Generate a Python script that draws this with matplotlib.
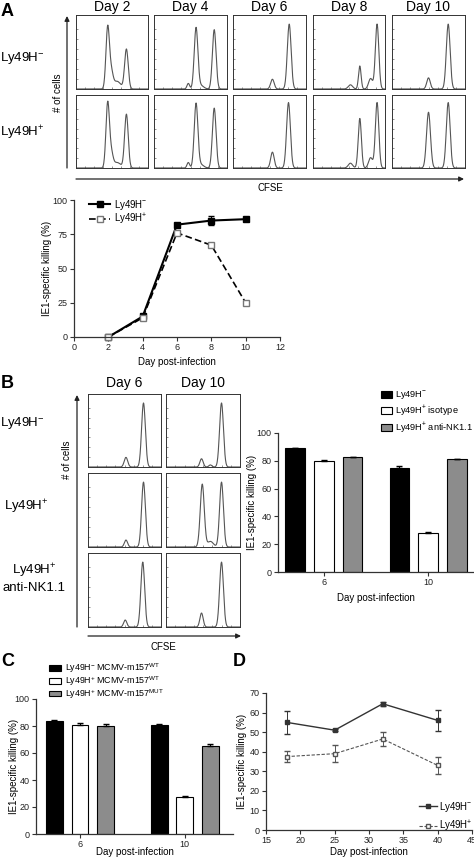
import numpy as np
import matplotlib
matplotlib.use('Agg')
import matplotlib.pyplot as plt
from matplotlib.lines import Line2D

plt.rcParams['font.family'] = ['Liberation Sans', 'DejaVu Sans']
plt.rcParams['mathtext.fontset'] = 'custom'
plt.rcParams['mathtext.rm'] = 'Liberation Sans'
plt.rcParams['mathtext.it'] = 'Liberation Sans:italic'
plt.rcParams['mathtext.bf'] = 'Liberation Sans:bold'

NEG = r'Ly49H$^{-}$'
POS = r'Ly49H$^{+}$'

# ---- panel A histograms: CFSE peaks (position, height, width) ----
a_days = ['Day 2', 'Day 4', 'Day 6', 'Day 8', 'Day 10']
a_neg_peaks = [
    [(0.44, 0.88, 0.024), (0.49, 0.22, 0.025), (0.57, 0.11, 0.05), (0.70, 0.57, 0.025)],
    [(0.47, 0.08, 0.018), (0.576, 0.87, 0.025), (0.64, 0.05, 0.04), (0.825, 0.85, 0.025)],
    [(0.54, 0.14, 0.024), (0.77, 0.93, 0.026)],
    [(0.52, 0.06, 0.03), (0.65, 0.33, 0.018), (0.80, 0.15, 0.028), (0.89, 0.93, 0.024)],
    [(0.50, 0.16, 0.024), (0.77, 0.93, 0.026)],
]
a_pos_peaks = [
    [(0.44, 0.94, 0.024), (0.49, 0.20, 0.025), (0.57, 0.08, 0.05), (0.70, 0.78, 0.025)],
    [(0.47, 0.08, 0.018), (0.576, 0.93, 0.025), (0.64, 0.05, 0.04), (0.825, 0.87, 0.025)],
    [(0.54, 0.23, 0.024), (0.76, 0.95, 0.026)],
    [(0.52, 0.07, 0.03), (0.65, 0.72, 0.022), (0.80, 0.15, 0.028), (0.89, 0.95, 0.024)],
    [(0.50, 0.81, 0.027), (0.77, 0.95, 0.026)],
]

# ---- panel A line chart ----
a_x = [2, 4, 6, 8, 10]
a_neg = [0, 15, 82, 85, 86]
a_neg_err = [0.5, 0.5, 0.8, 3, 1]
a_pos = [0, 14, 76, 67, 25]
a_pos_err = [0.5, 0.5, 0.8, 1, 1]

# ---- panel B histograms ----
b_days = ['Day 6', 'Day 10']
b_rows = [NEG, POS, POS + '\nanti-NK1.1']
b_peaks = [
    [[(0.52, 0.14, 0.024), (0.76, 0.93, 0.026)],
     [(0.48, 0.12, 0.022), (0.60, 0.03, 0.02), (0.75, 0.93, 0.026)]],
    [[(0.52, 0.10, 0.022), (0.76, 0.93, 0.026)],
     [(0.49, 0.90, 0.027), (0.60, 0.08, 0.04), (0.75, 0.93, 0.026)]],
    [[(0.51, 0.10, 0.022), (0.75, 0.93, 0.026)],
     [(0.48, 0.20, 0.022), (0.75, 0.93, 0.026)]],
]

# ---- panel B bars ----
b_groups = ['6', '10']
b_neg = [89, 74.5]
b_neg_err = [0, 1.5]
b_iso = [79.5, 28]
b_iso_err = [1, 1]
b_nk = [82.5, 81]
b_nk_err = [0.5, 0.5]

# ---- panel C bars ----
c_groups = ['6', '10']
c_neg = [84, 80.5]
c_neg_err = [0.5, 1]
c_wt = [81, 27.5]
c_wt_err = [1.5, 0.5]
c_mut = [80, 65]
c_mut_err = [1.5, 2]

# ---- panel D lines ----
d_x = [18, 25, 32, 40]
d_neg = [55, 51, 64.5, 56]
d_neg_err = [6, 0.5, 1, 5.5]
d_pos = [37.5, 39, 46.5, 33]
d_pos_err = [3, 4.5, 3.5, 4.5]

W, H = 474, 861
fig = plt.figure(figsize=(W / 100, H / 100), dpi=100)

ov = fig.add_axes([0, 0, 1, 1])
ov.set_xlim(0, W)
ov.set_ylim(H, 0)
ov.axis('off')


def px_axes(x0, y0, x1, y1):
    return fig.add_axes([x0 / W, 1 - y1 / H, (x1 - x0) / W, (y1 - y0) / H])


def ftext(x, y, s, **kw):
    ov.text(x, y, s, **kw)


def arrow(x0, y0, x1, y1):
    ov.annotate('', xy=(x1, y1), xytext=(x0, y0),
                arrowprops=dict(arrowstyle='-|>', color='#222', lw=0.9, mutation_scale=7,
                                shrinkA=0, shrinkB=0))


def histo(ax, peaks):
    x = np.linspace(0, 1, 400)
    y = np.zeros_like(x)
    for p, h, s in peaks:
        y += h * np.exp(-0.5 * ((x - p) / s) ** 2)
    ax.plot(x, y, color='#555555', lw=0.8)
    ax.set_xlim(0, 1)
    ax.set_ylim(0, 1.06)
    ax.set_xticks(np.linspace(0, 1, 9)[1:-1])
    ax.set_yticks(np.linspace(0, 1, 8)[1:-1])
    ax.tick_params(direction='in', length=1.5, width=0.5, colors='#666',
                   labelleft=False, labelbottom=False)
    for s in ax.spines.values():
        s.set_linewidth(0.7)
        s.set_color('#333')


def prism(ax):
    ax.spines['top'].set_visible(False)
    ax.spines['right'].set_visible(False)
    for s in ['left', 'bottom']:
        ax.spines[s].set_linewidth(0.9)
        ax.spines[s].set_color('#333')
    ax.tick_params(direction='out', length=3, width=0.8, labelsize=6.5, pad=1.5, colors='#333',
                   labelcolor='#222')


def labels(ax, xl, yl):
    ax.set_ylabel('IE1-specific killing (%)', fontsize=7)
    ax.set_xlabel('Day post-infection', fontsize=7)
    ax.yaxis.set_label_coords(yl, 0.5)
    ax.xaxis.set_label_coords(0.5, xl)


# ================= Panel A =================
ftext(1, 12, 'A', fontsize=13, fontweight='bold', va='center')
a_cols = [(76, 148), (154, 227), (233, 306), (313, 385), (392, 465)]
a_rowy = [(15, 89), (95, 168)]
for j, (x0, x1) in enumerate(a_cols):
    ftext((x0 + x1) / 2, 7, a_days[j], fontsize=10, ha='center', va='center')
    histo(px_axes(x0, a_rowy[0][0], x1, a_rowy[0][1]), a_neg_peaks[j])
    histo(px_axes(x0, a_rowy[1][0], x1, a_rowy[1][1]), a_pos_peaks[j])
ftext(22, 58, NEG, fontsize=9.5, ha='center', va='center')
ftext(22, 133, POS, fontsize=9.5, ha='center', va='center')
ftext(58, 93, '# of cells', fontsize=7, rotation=90, ha='center', va='center')
arrow(67, 168, 67, 16)
arrow(76, 179, 464, 179)
ftext(270, 188, 'CFSE', fontsize=7, ha='center', va='center')

ax = px_axes(74, 200, 280, 337)
ax.errorbar(a_x, a_neg, yerr=a_neg_err, color='black', lw=1.5, marker='s', ms=5,
            capsize=2, elinewidth=0.8, clip_on=False)
ax.errorbar(a_x, a_pos, yerr=a_pos_err, color='black', ls=(0, (4, 2)), lw=1.2, marker='s', ms=5,
            mfc='white', mec='#777777', capsize=2, elinewidth=0.8, clip_on=False)
ax.set_xlim(0, 12)
ax.set_ylim(0, 100)
ax.set_xticks(range(0, 13, 2))
ax.set_yticks([0, 25, 50, 75, 100])
prism(ax)
labels(ax, -0.146, -0.105)
h_a = [Line2D([], [], color='black', lw=1.5, marker='s', ms=5),
       Line2D([], [], color='black', ls=(0, (4, 2)), lw=1.2, marker='s', ms=5, mfc='white', mec='#777777')]
ax.legend(h_a, [NEG, POS], loc='upper left', bbox_to_anchor=(84 / W, 1 - 193 / H),
          bbox_transform=fig.transFigure, frameon=False, fontsize=7, handlelength=2.2,
          labelspacing=0.0, borderpad=0, handletextpad=0.4)

# ================= Panel B =================
ftext(1, 383, 'B', fontsize=13, fontweight='bold', va='center')
b_cols = [(88, 161), (166, 240)]
b_rowy = [(394, 467), (473, 547), (553, 627)]
for j, (x0, x1) in enumerate(b_cols):
    ftext((x0 + x1) / 2, 383, b_days[j], fontsize=10, ha='center', va='center')
    for i, (y0, y1) in enumerate(b_rowy):
        histo(px_axes(x0, y0, x1, y1), b_peaks[i][j])
ftext(22, 423, b_rows[0], fontsize=9.5, ha='center', va='center')
ftext(26, 507, b_rows[1], fontsize=9.5, ha='center', va='center')
ftext(34, 578, b_rows[2], fontsize=9.5, ha='center', va='center', linespacing=1.3)
ftext(67, 460, '# of cells', fontsize=7, rotation=90, ha='center', va='center')
arrow(77, 627, 77, 395)
arrow(88, 636, 241, 636)
ftext(163, 647, 'CFSE', fontsize=7, ha='center', va='center')

ax = px_axes(278, 433, 473, 572)
xs = np.arange(len(b_groups))
bw, off = 0.19, 0.275
z = [0, 0]
ax.bar(xs - off, b_neg, bw, color='black', edgecolor='black', lw=0.8, label=NEG)
ax.bar(xs, b_iso, bw, color='white', edgecolor='black', lw=0.8, label=POS + ' isotype')
ax.bar(xs + off, b_nk, bw, color='#8c8c8c', edgecolor='black', lw=0.8, label=POS + ' anti-NK1.1')
ax.errorbar(xs - off, b_neg, yerr=[z, b_neg_err], fmt='none', ecolor='black', capsize=2, elinewidth=0.8)
ax.errorbar(xs, b_iso, yerr=[z, b_iso_err], fmt='none', ecolor='black', capsize=2, elinewidth=0.8)
ax.errorbar(xs + off, b_nk, yerr=[z, b_nk_err], fmt='none', ecolor='black', capsize=2, elinewidth=0.8)
ax.set_xlim(-0.44, 1.43)
ax.set_ylim(0, 100)
ax.set_xticks(xs)
ax.set_xticklabels(b_groups)
ax.set_yticks(range(0, 101, 20))
prism(ax)
labels(ax, -0.151, -0.108)
ax.legend(loc='upper left', bbox_to_anchor=(376 / W, 1 - 385 / H), bbox_transform=fig.transFigure,
          frameon=False, fontsize=6.7, handlelength=1.2, handleheight=0.8, labelspacing=0.2,
          borderpad=0, handletextpad=0.3)

# ================= Panel C =================
ftext(1, 662, 'C', fontsize=13, fontweight='bold', va='center')
ax = px_axes(36, 699, 233, 834)
xs = np.arange(len(c_groups))
bw, off = 0.16, 0.245
ax.bar(xs - off, c_neg, bw, color='black', edgecolor='black', lw=0.8,
       label=NEG + r' MCMV-m157$^{\mathrm{WT}}$')
ax.bar(xs, c_wt, bw, color='white', edgecolor='black', lw=0.8,
       label=POS + r' MCMV-m157$^{\mathrm{WT}}$')
ax.bar(xs + off, c_mut, bw, color='#8c8c8c', edgecolor='black', lw=0.8,
       label=POS + r' MCMV-m157$^{\mathrm{MUT}}$')
ax.errorbar(xs - off, c_neg, yerr=[z, c_neg_err], fmt='none', ecolor='black', capsize=2, elinewidth=0.8)
ax.errorbar(xs, c_wt, yerr=[z, c_wt_err], fmt='none', ecolor='black', capsize=2, elinewidth=0.8)
ax.errorbar(xs + off, c_mut, yerr=[z, c_mut_err], fmt='none', ecolor='black', capsize=2, elinewidth=0.8)
ax.set_xlim(-0.42, 1.46)
ax.set_ylim(0, 100)
ax.set_xticks(xs)
ax.set_xticklabels(c_groups)
ax.set_yticks(range(0, 101, 20))
prism(ax)
labels(ax, -0.096, -0.086)
ax.legend(loc='upper left', bbox_to_anchor=(45 / W, 1 - 657 / H), bbox_transform=fig.transFigure,
          frameon=False, fontsize=6.4, handlelength=1.3, handleheight=0.6, labelspacing=-0.1,
          borderpad=0, handletextpad=0.4)

# ================= Panel D =================
ftext(233, 662, 'D', fontsize=13, fontweight='bold', va='center')
ax = px_axes(266, 693, 472, 830)
ax.errorbar(d_x, d_neg, yerr=d_neg_err, color='#333333', lw=1.0, marker='s', ms=3.5,
            capsize=2, elinewidth=0.7)
ax.errorbar(d_x, d_pos, yerr=d_pos_err, color='#555555', ls=(0, (3, 1.5)), lw=0.8, marker='s', ms=3.5,
            mfc='white', mec='#555555', capsize=2, elinewidth=0.7)
ax.set_xlim(15, 45)
ax.set_ylim(0, 70)
ax.set_xticks(range(15, 46, 5))
ax.set_yticks(range(0, 71, 10))
prism(ax)
labels(ax, -0.124, -0.092)
h_d = [Line2D([], [], color='#333333', lw=1.0, marker='s', ms=3.5),
       Line2D([], [], color='#555555', ls=(0, (3, 1.5)), lw=0.8, marker='s', ms=3.5, mfc='white', mec='#555555')]
ax.legend(h_d, [NEG, POS], loc='upper left', bbox_to_anchor=(414 / W, 1 - 795 / H),
          bbox_transform=fig.transFigure, frameon=False, fontsize=7, handlelength=1.9,
          labelspacing=0.45, borderpad=0, handletextpad=0.2)

fig.savefig('out.png', dpi=100)
